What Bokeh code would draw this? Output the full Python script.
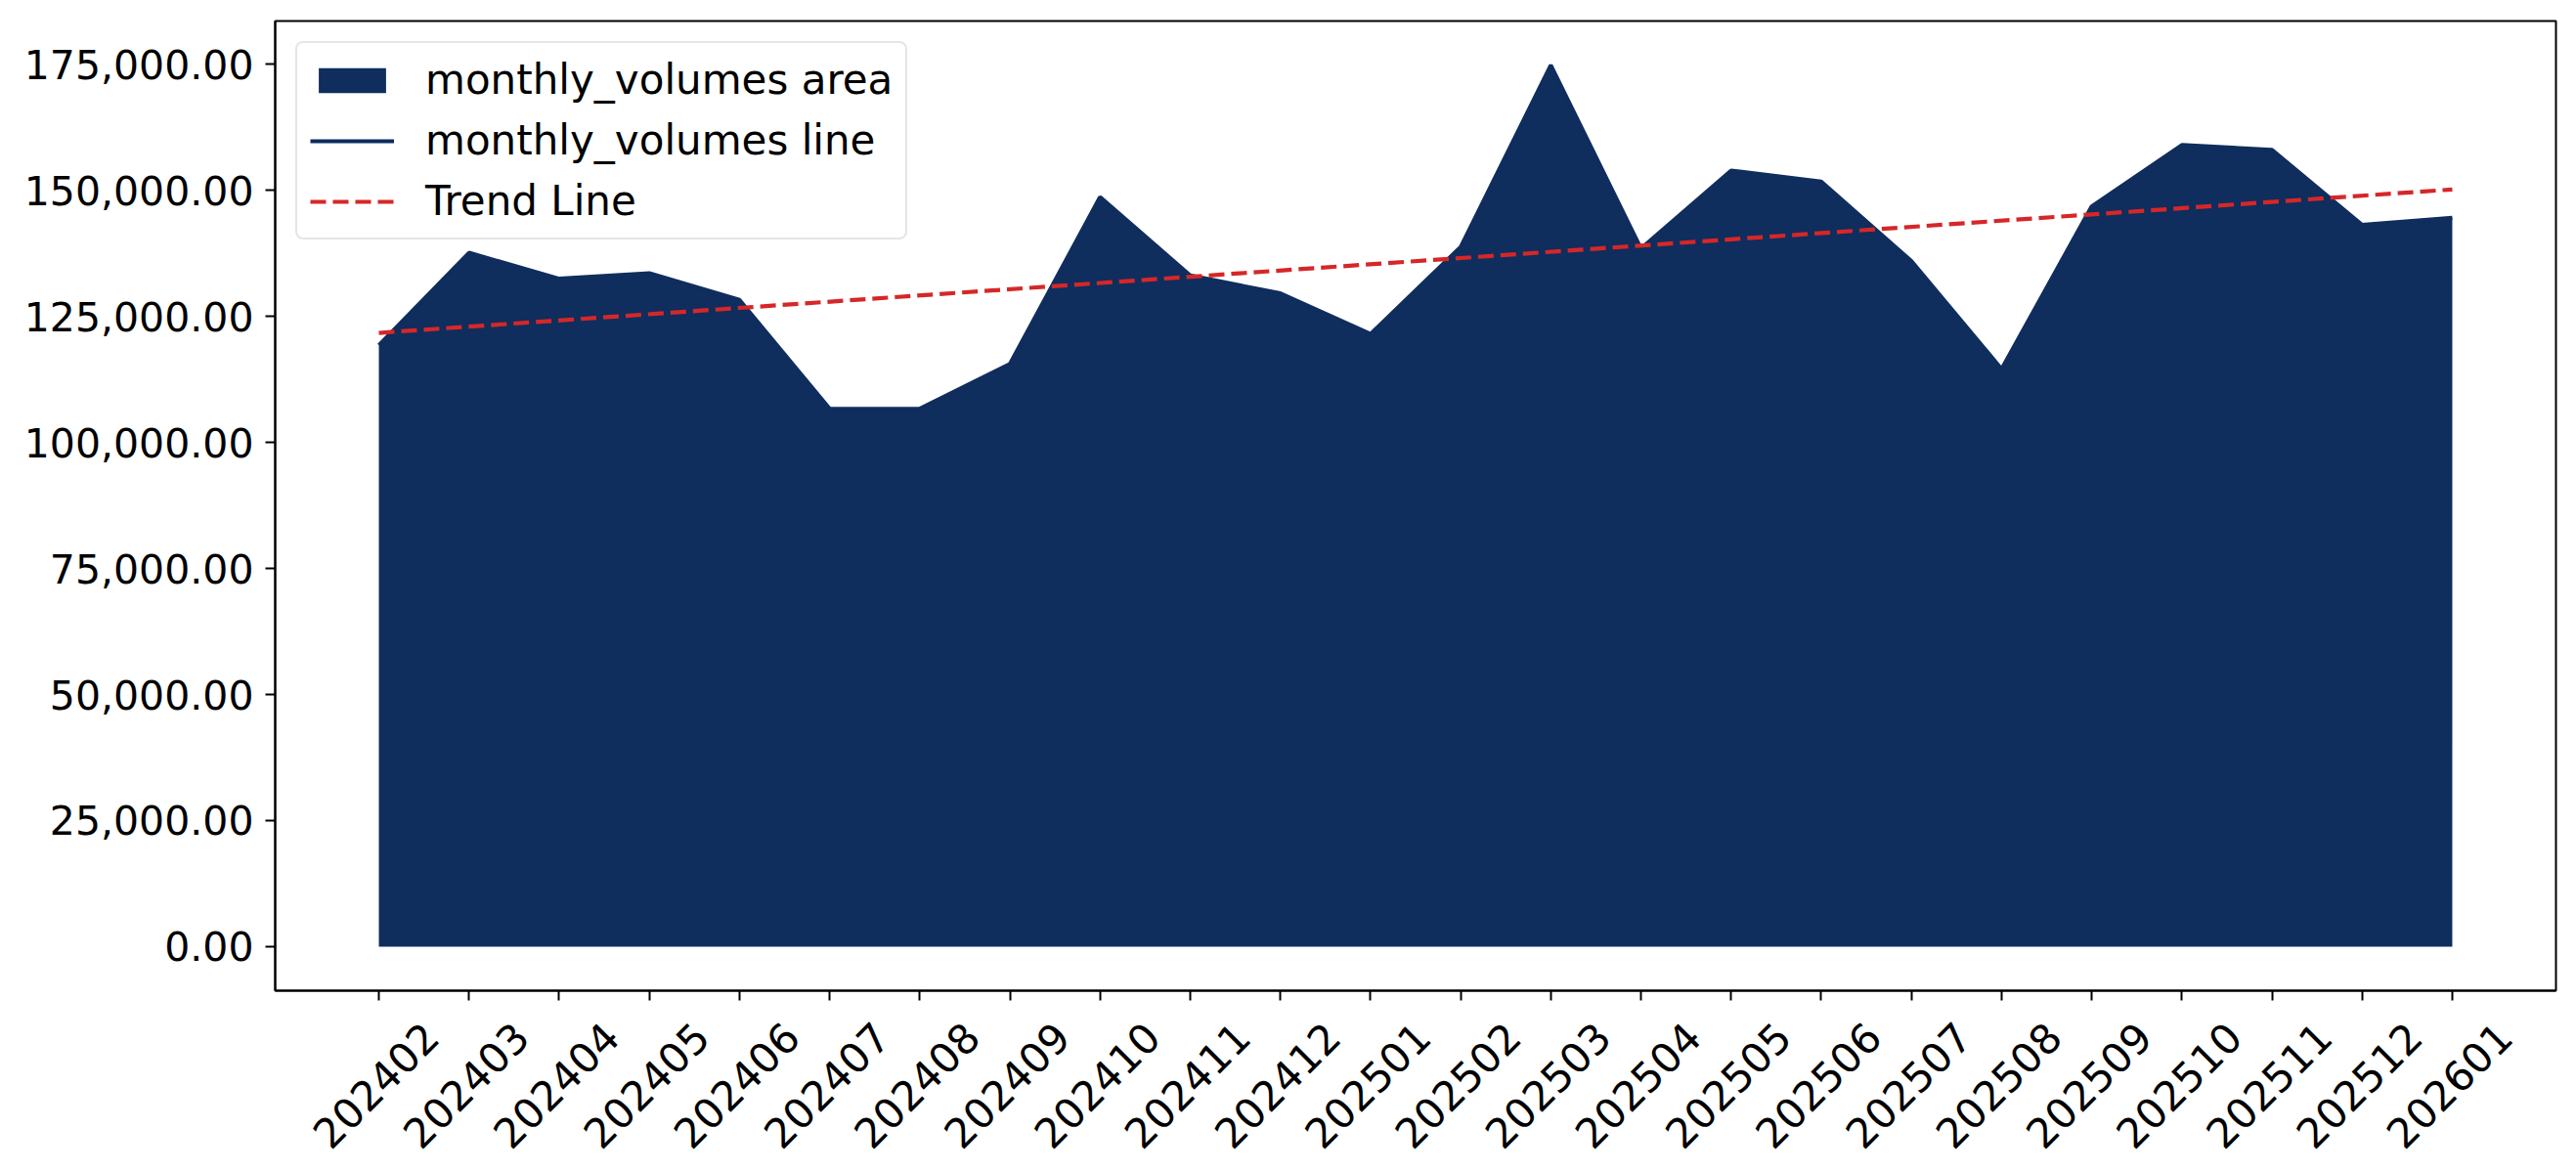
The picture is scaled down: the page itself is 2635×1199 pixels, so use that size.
import math
from bokeh.plotting import figure
from bokeh.models import (Range1d, FixedTicker, NumeralTickFormatter, Legend,
                          LegendItem, ColumnDataSource, LinearAxis)
from bokeh.embed import file_html
from bokeh.resources import INLINE

months = ["202402", "202403", "202404", "202405", "202406", "202407",
          "202408", "202409", "202410", "202411", "202412", "202501",
          "202502", "202503", "202504", "202505", "202506", "202507",
          "202508", "202509", "202510", "202511", "202512", "202601"]
volumes = [119300, 137650, 132500, 133600, 128300, 106700,
           106700, 115600, 148700, 133150, 129600, 121550,
           138800, 174870, 138500, 153950, 151750, 136000,
           114600, 146850, 159030, 158060, 143190, 144600]
trend_months = ["202402", "202601"]
trend_values = [121750, 150200]
y_ticks = [0, 25000, 50000, 75000, 100000, 125000, 150000, 175000]

AREA = "#0f2d5d"
RED = "#d62728"
FONT = "DejaVu Sans"

W, H = 2635, 1199

pos = {m: i for i, m in enumerate(months)}
src = ColumnDataSource(dict(x=[pos[m] for m in months], y=volumes,
                            zero=[0] * len(months)))
tsrc = ColumnDataSource(dict(x=[pos[m] for m in trend_months], y=trend_values))

n = len(months)
ymax = max(volumes)
x0, x1 = -0.05 * (n - 1), (n - 1) * 1.05
y0, y1 = -0.05 * ymax, 1.05 * ymax
p = figure(width=W, height=H, output_backend="svg", toolbar_location=None,
           x_range=Range1d(x0, x1), y_range=Range1d(y0, y1),
           min_border_left=281, min_border_right=21,
           min_border_top=21, min_border_bottom=186)
p.background_fill_color = "white"
p.border_fill_color = "white"
p.xgrid.visible = False
p.ygrid.visible = False
p.outline_line_color = "black"
p.outline_line_width = 2
p.outline_line_alpha = 1

area = p.varea(x="x", y1="zero", y2="y", source=src, fill_color=AREA, fill_alpha=1)
line = p.line(x="x", y="y", source=src, line_color=AREA, line_width=4)
trend = p.line(x="x", y="y", source=tsrc, line_color=RED, line_width=4.2,
               line_dash="16 7")

# main x axis: ticks only
p.xaxis.ticker = FixedTicker(ticks=list(range(n)))
p.xaxis.major_label_overrides = {i: "" for i in range(n)}
p.xaxis.major_label_standoff = 0
p.xaxis.major_label_text_font_size = "1px"
p.yaxis.ticker = FixedTicker(ticks=y_ticks)
p.yaxis.formatter = NumeralTickFormatter(format="0,0.00")
p.yaxis.major_label_text_font = FONT
p.yaxis.major_label_text_font_size = "41px"
p.yaxis.major_label_text_color = "black"
p.yaxis.major_label_standoff = 12

for ax in (p.xaxis, p.yaxis):
    ax.axis_line_color = "black"
    ax.axis_line_width = 2
    ax.major_tick_line_color = "black"
    ax.major_tick_line_width = 2
    ax.major_tick_out = 10
    ax.major_tick_in = 0
    ax.minor_tick_line_color = None

# label-only axis, shifted so that rotated labels are centred under ticks
shift = 0.58
p.extra_x_ranges = {"labels": Range1d(x0 - shift, x1 - shift)}
lab_axis = LinearAxis(x_range_name="labels",
                      ticker=FixedTicker(ticks=list(range(n))),
                      major_label_overrides={i: m for i, m in enumerate(months)},
                      major_label_orientation=math.pi / 4,
                      major_label_text_font=FONT,
                      major_label_text_font_size="42px",
                      major_label_text_color="black",
                      major_label_standoff=24,
                      axis_line_color=None,
                      major_tick_line_color=None,
                      minor_tick_line_color=None)
p.add_layout(lab_axis, "below")

legend = Legend(items=[
    LegendItem(label="monthly_volumes area", renderers=[area]),
    LegendItem(label="monthly_volumes line", renderers=[line]),
    LegendItem(label="Trend Line", renderers=[trend]),
], location="top_left")
legend.margin = 21
legend.padding = 13
legend.spacing = 13
legend.glyph_width = 86
legend.glyph_height = 32
legend.label_standoff = 32
legend.label_text_font = FONT
legend.label_text_font_size = "42px"
legend.label_text_color = "black"
legend.border_line_color = "#cccccc"
legend.border_line_width = 2
legend.background_fill_color = "white"
legend.background_fill_alpha = 0.8
if "border_radius" in Legend.properties():
    legend.border_radius = 8
p.add_layout(legend)

open("out.html", "w").write(file_html(p, INLINE))
